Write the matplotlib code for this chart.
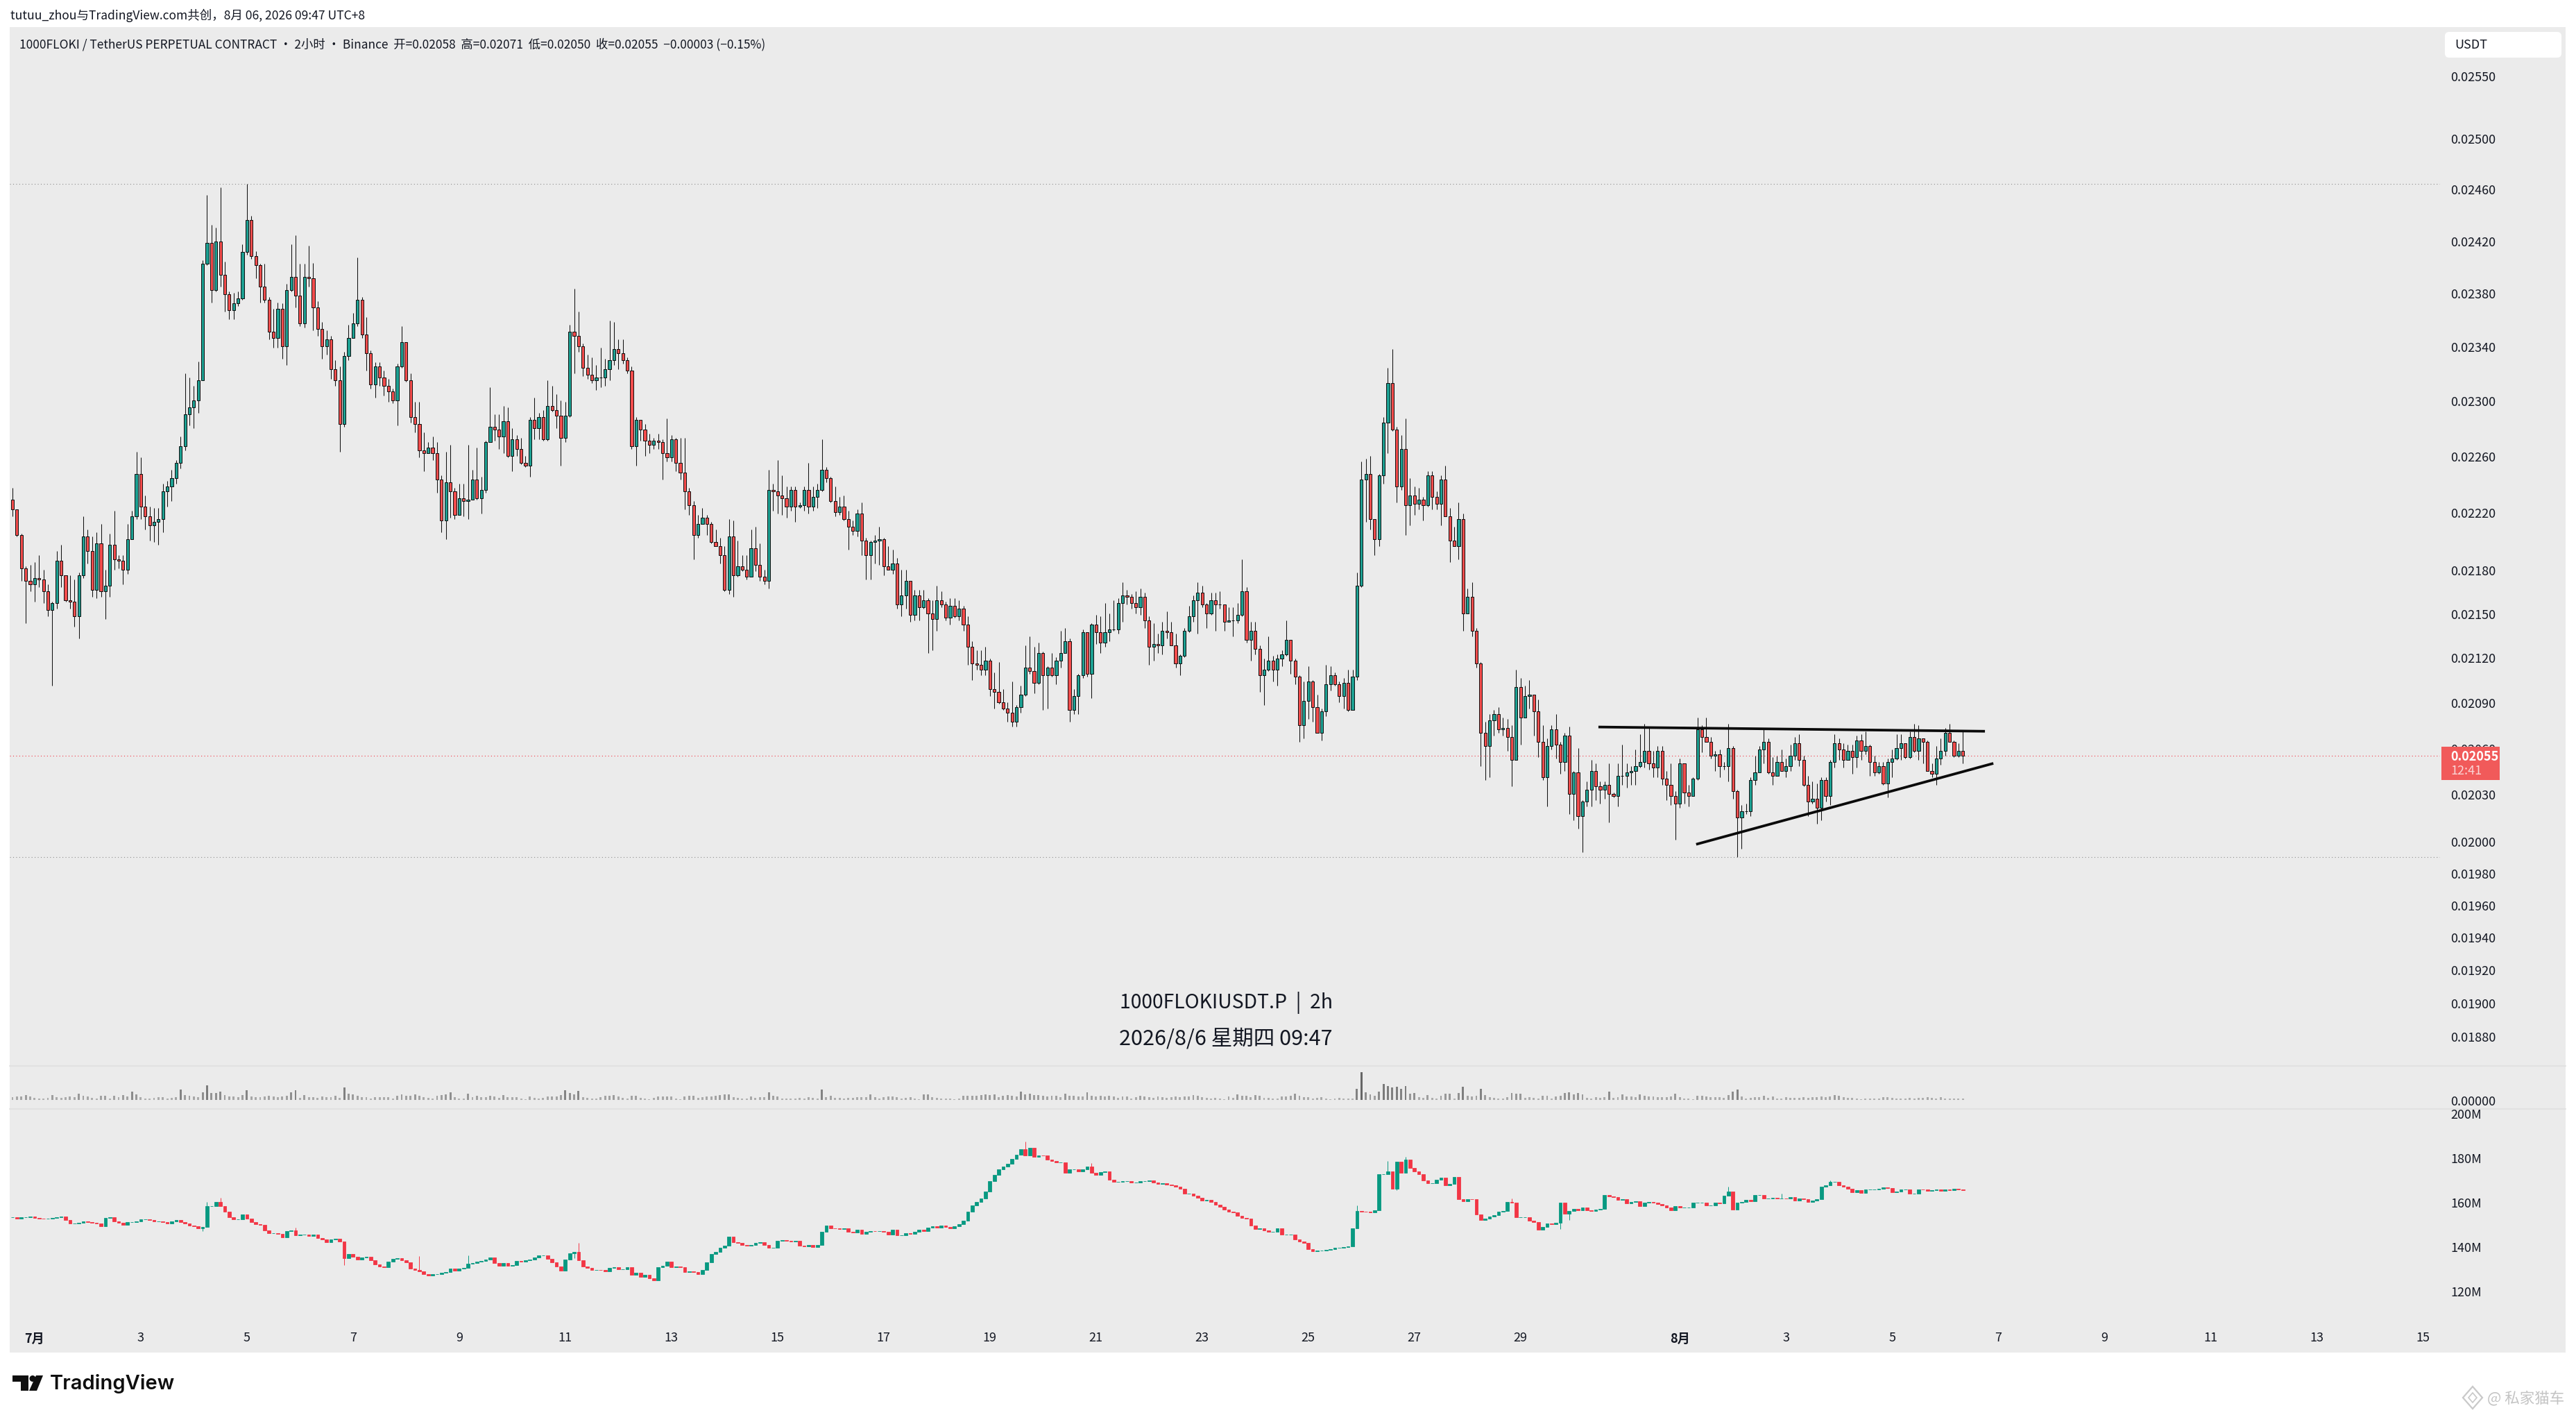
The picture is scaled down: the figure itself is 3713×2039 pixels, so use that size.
import numpy as np
import matplotlib
matplotlib.use('Agg')
import matplotlib.pyplot as plt
from matplotlib.lines import Line2D
from matplotlib.patches import Rectangle, FancyBboxPatch, Polygon
from matplotlib.ticker import NullLocator, NullFormatter
from matplotlib.transforms import Affine2D

plt.rcParams['font.family'] = ['Noto Sans CJK SC', 'DejaVu Sans']

W, H = 3713, 2040

# price candles, in units of 0.00001 USDT
close = [
2222,2204,2181,2172,2170,2174,2173,2165,2152,2157,
2186,2176,2159,2158,2148,2176,2203,2193,2166,2198,
2165,2169,2197,2187,2186,2180,2201,2217,2247,2224,
2217,2211,2213,2215,2235,2238,2244,2255,2267,2290,
2295,2300,2315,2402,2418,2382,2419,2394,2379,2367,
2372,2376,2411,2436,2408,2401,2385,2375,2351,2346,
2368,2340,2382,2392,2378,2357,2392,2391,2369,2353,
2340,2345,2323,2315,2283,2333,2346,2357,2375,2349,
2335,2312,2325,2317,2311,2307,2300,2325,2343,2315,
2288,2283,2264,2262,2266,2262,2243,2214,2241,2235,
2218,2230,2228,2229,2243,2230,2236,2270,2281,2279,
2274,2285,2260,2272,2265,2255,2253,2286,2280,2288,
2272,2296,2293,2289,2273,2289,2351,2348,2340,2324,
2319,2315,2317,2317,2323,2330,2338,2335,2330,2322,
2267,2286,2279,2271,2268,2271,2270,2262,2259,2272,
2255,2248,2235,2225,2204,2212,2216,2212,2199,2196,
2190,2166,2203,2176,2182,2180,2175,2195,2183,2175,
2172,2236,2235,2232,2230,2224,2236,2224,2225,2236,
2224,2231,2236,2250,2244,2228,2220,2224,2215,2210,
2207,2219,2200,2190,2199,2200,2201,2182,2180,2184,
2156,2162,2172,2149,2162,2154,2159,2150,2146,2159,
2156,2147,2155,2148,2153,2142,2127,2116,2115,2112,
2118,2099,2097,2090,2086,2083,2077,2087,2095,2113,
2111,2103,2123,2108,2113,2108,2118,2123,2131,2085,
2094,2108,2137,2109,2142,2137,2130,2137,2139,2139,
2157,2162,2161,2157,2154,2161,2145,2127,2129,2128,
2138,2137,2128,2116,2121,2138,2148,2159,2164,2156,
2150,2159,2156,2156,2144,2145,2145,2149,2165,2132,
2138,2126,2108,2112,2118,2112,2119,2122,2132,2118,
2107,2075,2091,2104,2087,2070,2084,2102,2108,2102,
2094,2103,2085,2107,2169,2243,2247,2215,2201,2246,
2284,2313,2279,2238,2265,2225,2232,2226,2229,2225,
2246,2231,2226,2243,2217,2200,2196,2215,2150,2161,
2138,2116,2070,2061,2078,2082,2072,2073,2067,2052,
2100,2080,2094,2095,2084,2064,2041,2061,2072,2062,
2051,2068,2030,2044,2016,2025,2033,2045,2035,2033,
2036,2030,2029,2042,2042,2044,2045,2048,2051,2058,
2050,2047,2058,2040,2036,2029,2024,2050,2031,2029,
2040,2072,2067,2064,2055,2056,2048,2048,2060,2032,
2015,2019,2019,2039,2044,2059,2064,2044,2042,2051,
2045,2048,2055,2063,2052,2036,2025,2027,2021,2039,
2029,2051,2063,2059,2052,2058,2054,2065,2058,2061,
2051,2044,2048,2037,2051,2053,2060,2063,2054,2067,
2058,2066,2064,2045,2043,2053,2058,2070,2064,2055,
2058,2055]
high = [
2237,2222,2205,2182,2183,2185,2190,2180,2170,2158,
2193,2197,2176,2176,2173,2178,2217,2208,2203,2206,
2212,2180,2205,2221,2190,2190,2212,2221,2263,2259,
2232,2224,2223,2223,2240,2242,2250,2257,2274,2320,
2317,2311,2329,2405,2455,2432,2430,2461,2404,2381,
2380,2381,2417,2464,2439,2412,2402,2402,2377,2368,
2373,2372,2387,2417,2424,2402,2402,2416,2403,2374,
2358,2352,2348,2330,2325,2336,2356,2365,2407,2377,
2362,2337,2328,2328,2322,2316,2309,2327,2355,2343,
2320,2299,2299,2277,2270,2274,2270,2246,2263,2268,
2237,2240,2240,2268,2250,2266,2245,2271,2310,2290,
2290,2296,2295,2280,2275,2273,2260,2288,2302,2291,
2293,2315,2311,2305,2300,2299,2356,2383,2366,2342,
2334,2332,2326,2339,2331,2359,2358,2345,2345,2332,
2325,2288,2286,2283,2276,2273,2276,2272,2287,2275,
2273,2273,2273,2237,2228,2218,2223,2218,2213,2208,
2202,2196,2215,2214,2200,2190,2190,2208,2210,2198,
2180,2250,2240,2257,2246,2238,2238,2238,2227,2238,
2255,2238,2240,2272,2252,2245,2238,2231,2232,2221,
2214,2222,2227,2202,2200,2204,2210,2202,2196,2194,
2188,2180,2180,2171,2166,2166,2166,2160,2159,2169,
2165,2158,2160,2160,2159,2155,2148,2131,2125,2125,
2127,2119,2110,2117,2099,2090,2104,2088,2101,2128,
2134,2127,2130,2124,2114,2123,2120,2138,2140,2133,
2099,2109,2139,2137,2143,2149,2148,2157,2150,2159,
2160,2171,2166,2163,2165,2167,2164,2148,2143,2136,
2144,2151,2144,2136,2122,2140,2155,2162,2171,2169,
2157,2164,2164,2165,2156,2154,2154,2157,2187,2168,
2144,2144,2128,2119,2134,2121,2122,2125,2145,2132,
2119,2108,2104,2114,2105,2095,2086,2115,2114,2110,
2104,2106,2112,2112,2178,2256,2258,2260,2212,2247,
2288,2324,2338,2281,2275,2287,2244,2238,2237,2231,
2249,2249,2235,2246,2253,2223,2210,2227,2219,2167,
2171,2140,2117,2077,2082,2085,2087,2080,2079,2075,
2112,2106,2101,2105,2095,2092,2075,2066,2075,2082,
2064,2070,2074,2045,2060,2026,2038,2052,2050,2038,
2038,2050,2031,2050,2062,2050,2048,2059,2069,2076,
2073,2058,2061,2061,2045,2050,2032,2053,2050,2036,
2041,2080,2075,2080,2067,2058,2059,2051,2076,2061,
2033,2023,2024,2041,2055,2061,2072,2066,2054,2055,
2059,2053,2062,2067,2069,2055,2042,2038,2037,2041,
2041,2052,2069,2066,2063,2062,2062,2068,2069,2071,
2062,2055,2051,2051,2053,2059,2069,2069,2063,2071,
2076,2075,2066,2065,2050,2061,2066,2073,2076,2065,
2063,2071]
low = [
2217,2203,2172,2143,2165,2158,2168,2157,2148,2101,
2153,2168,2158,2153,2141,2133,2174,2184,2161,2160,
2161,2146,2161,2180,2181,2170,2177,2201,2215,2215,
2208,2200,2199,2197,2206,2224,2228,2240,2251,2264,
2282,2280,2291,2315,2401,2373,2381,2385,2366,2360,
2360,2370,2375,2409,2406,2391,2373,2373,2345,2339,
2339,2331,2326,2381,2369,2355,2354,2385,2352,2348,
2331,2334,2316,2311,2263,2281,2330,2356,2355,2346,
2322,2309,2302,2311,2304,2299,2298,2282,2324,2314,
2284,2277,2259,2249,2263,2257,2234,2206,2201,2216,
2215,2219,2217,2215,2229,2229,2219,2234,2270,2271,
2265,2262,2259,2249,2260,2254,2252,2245,2272,2272,
2271,2271,2292,2280,2253,2270,2288,2320,2336,2318,
2316,2313,2308,2310,2311,2315,2326,2323,2327,2320,
2265,2253,2271,2260,2262,2265,2265,2243,2256,2256,
2249,2243,2222,2218,2187,2202,2212,2204,2198,2196,
2184,2165,2163,2161,2175,2179,2173,2183,2179,2172,
2170,2167,2221,2219,2218,2216,2221,2213,2223,2221,
2219,2221,2223,2235,2241,2227,2217,2218,2214,2194,
2204,2203,2190,2173,2173,2184,2183,2176,2180,2177,
2153,2148,2153,2144,2145,2145,2153,2123,2125,2138,
2154,2145,2142,2147,2145,2138,2115,2105,2112,2108,
2108,2094,2086,2089,2085,2077,2074,2074,2083,2094,
2109,2096,2102,2085,2086,2107,2102,2113,2123,2077,
2082,2082,2106,2107,2093,2129,2123,2127,2131,2138,
2136,2144,2156,2153,2150,2149,2140,2115,2118,2123,
2122,2133,2128,2113,2108,2120,2137,2144,2136,2154,
2140,2149,2138,2153,2138,2144,2134,2143,2148,2130,
2118,2122,2097,2088,2111,2104,2101,2114,2121,2109,
2102,2064,2066,2079,2077,2070,2065,2081,2098,2101,
2090,2086,2084,2085,2105,2168,2213,2208,2190,2196,
2240,2262,2278,2227,2236,2204,2211,2218,2222,2214,
2224,2222,2222,2211,2217,2185,2196,2187,2138,2155,
2134,2113,2048,2039,2041,2068,2070,2068,2058,2035,
2052,2062,2080,2086,2068,2054,2039,2022,2059,2053,
2043,2045,2017,2013,2008,1993,2022,2022,2026,2024,
2027,2012,2028,2022,2036,2034,2036,2036,2047,2047,
2046,2041,2041,2036,2026,2023,2001,2021,2024,2022,
2029,2039,2057,2064,2053,2045,2041,2046,2038,2027,
1990,1995,2017,2016,2036,2044,2050,2043,2036,2042,
2045,2041,2045,2052,2048,2035,2016,2024,2011,2013,
2025,2023,2047,2052,2047,2052,2043,2047,2052,2056,
2042,2042,2043,2036,2028,2041,2052,2052,2053,2053,
2057,2052,2050,2045,2041,2036,2049,2055,2064,2054,
2054,2050]

# volume pane, heights (axis shows no scale)
volume = [
10,13,15,20,14,9,7,5,8,20,11,8,11,14,12,25,17,13,8,7,17,18,7,17,10,20,15,35,24,10,
7,6,9,11,12,7,8,12,43,20,16,13,10,32,60,28,30,35,20,15,13,12,20,40,14,12,10,14,17,13,
11,15,18,32,40,9,20,10,12,9,14,10,11,18,9,52,25,22,17,12,10,6,12,11,10,12,7,18,22,17,
18,24,16,12,8,7,17,20,24,32,12,7,5,26,10,18,10,10,18,14,9,20,12,11,12,6,4,14,8,6,
9,13,15,15,20,41,30,23,38,11,9,5,6,12,16,18,21,13,9,5,17,18,9,6,4,9,14,14,15,13,
6,4,15,16,17,9,10,13,14,16,21,22,24,11,8,6,5,13,8,10,10,31,17,15,7,7,5,7,8,5,
12,8,6,43,12,16,8,9,6,8,9,11,10,10,22,12,7,10,14,14,12,
6,9,12,5,4,24,24,11,9,7,5,5,4,5,17,16,16,16,20,24,21,24,12,18,20,17,15,34,24,25,
20,20,17,15,16,16,10,25,17,16,15,13,32,18,14,17,14,16,14,8,14,13,7,11,18,15,12,8,14,12,
9,10,13,12,14,14,20,16,11,8,6,9,5,4,14,8,23,16,16,12,21,16,8,9,5,5,14,14,16,25,
16,12,11,5,8,12,6,4,6,9,5,6,5,47,115,32,24,18,35,67,57,52,55,45,58,25,30,10,8,20,9,6,
18,25,25,5,30,55,16,14,16,46,20,11,9,5,7,12,28,25,25,9,10,8,7,17,17,7,15,18,28,32,
22,28,22,8,6,10,8,10,34,9,12,22,15,13,12,24,17,14,13,11,11,12,14,25,12,6,6,4,17,16,
15,10,11,11,8,20,35,43,13,7,8,10,11,17,8,13,5,6,11,9,8,9,
12,8,10,12,13,11,13,20,18,10,8,9,5,4,5,6,6,7,12,10,8,7,7,7,8,7,8,8,12,9,7,10,7,5,7,6,7]

# lower pane candles, closes in millions
m_close = [
153.3,152.6,153.3,153.3,153.6,152.9,152.6,152.4,152.6,152.9,153.3,153.6,152.0,150.2,150.3,150.5,151.3,151.0,150.8,150.2,
149.1,152.8,153.3,151.3,150.5,149.7,151.0,151.0,151.3,152.2,152.2,152.0,151.2,151.3,151.0,150.4,151.2,152.0,151.0,150.2,
149.4,149.0,148.3,148.8,158.0,158.3,159.9,158.0,155.5,153.1,152.3,152.3,154.5,152.6,151.0,150.1,149.6,147.2,146.1,146.1,
145.8,144.0,146.9,147.2,145.1,145.4,145.4,144.8,145.3,143.7,143.2,141.9,143.2,143.4,142.2,134.6,136.5,135.4,134.1,134.9,
135.2,133.8,131.9,131.1,130.6,133.0,134.3,134.6,133.8,132.7,130.0,129.3,128.9,127.5,126.9,127.5,127.6,128.2,128.6,130.0,
129.0,130.0,130.3,132.2,132.4,133.0,133.6,134.0,134.9,132.4,131.3,132.5,131.4,131.6,133.5,133.3,133.8,134.0,135.1,135.9,
135.9,134.3,132.7,131.1,129.0,134.0,137.0,137.5,133.8,131.1,130.3,129.3,129.5,129.3,128.9,130.3,130.8,129.7,129.8,130.8,
127.3,128.2,126.3,127.1,125.7,124.6,130.6,131.4,133.1,130.8,131.1,130.8,128.4,128.9,128.6,127.5,129.5,132.9,136.7,137.5,
139.4,140.2,144.3,141.8,141.5,140.8,140.2,140.8,141.5,141.8,140.8,139.4,139.4,142.6,142.8,142.6,142.2,142.4,140.2,140.0,
140.8,139.7,140.8,146.7,149.4,148.3,148.0,147.8,148.0,146.5,146.2,147.4,145.8,146.7,147.0,146.9,147.0,146.5,145.4,147.4,145.1,
145.1,146.1,145.6,146.7,147.5,147.0,148.6,149.0,148.6,149.3,148.8,148.3,149.0,149.9,151.5,155.5,158.5,159.9,161.5,164.6,
169.3,172.3,174.8,175.9,177.3,179.5,181.4,183.7,181.1,184.3,180.5,181.1,180.9,179.2,178.6,177.9,177.9,173.3,174.6,174.8,
173.9,174.6,175.9,173.2,172.3,173.6,173.8,170.0,169.0,169.0,169.3,169.3,168.7,168.9,169.3,169.3,169.8,168.7,168.0,168.5,
167.9,167.5,166.9,166.0,163.7,163.9,162.8,162.0,160.7,160.9,159.9,158.8,157.7,156.7,155.6,155.3,153.7,152.8,152.6,149.4,
147.8,148.0,147.2,146.7,146.7,148.3,145.4,145.4,145.4,143.1,142.2,141.5,138.8,137.9,138.1,138.3,138.4,138.8,139.3,139.4,
139.7,139.9,148.1,156.1,155.6,155.5,155.3,156.4,172.5,172.5,173.8,166.0,178.1,173.0,179.2,175.2,173.8,172.5,169.7,168.4,
168.5,170.1,170.9,167.6,168.0,171.4,161.2,160.4,161.4,161.2,154.4,152.0,152.6,153.4,154.2,155.8,156.0,160.1,159.6,153.3,
153.3,153.3,151.5,151.0,147.5,148.8,150.2,149.9,150.8,159.6,154.7,156.1,156.9,156.4,157.4,156.4,156.1,156.6,157.0,163.3,
162.5,162.3,160.9,161.2,159.4,160.1,160.4,158.3,159.6,160.1,159.6,159.0,158.5,157.6,156.4,158.3,157.4,157.6,157.6,159.6,
159.8,159.8,158.5,158.5,159.8,159.3,162.8,164.6,156.6,159.6,160.1,160.9,160.3,163.3,163.3,161.7,161.7,162.0,161.7,161.7,
161.5,162.3,160.7,161.7,161.2,160.1,160.7,161.2,166.8,167.6,169.0,169.0,167.6,166.9,166.0,164.4,165.2,164.2,165.5,165.5,
165.8,166.1,166.6,166.2,164.4,164.6,165.5,165.5,163.9,163.9,165.8,165.5,165.0,165.2,165.5,165.0,165.7,165.3,165.9,165.8,165.4]
# only the wicks that stick out
m_high_idx = [44, 47, 64, 92, 103, 128, 229, 244, 304, 311, 315, 339, 388, 400, 411]
m_high_val = [160.1, 162.0, 148.6, 135.8, 136.1, 141.5, 187.1, 177.6, 158.5, 178.4, 180.5, 161.7, 166.8, 163.9, 169.6]
m_low_idx = [43, 75, 127, 313, 350, 352]
m_low_val = [146.9, 131.6, 134.6, 165.3, 147.8, 152.0]

price_ticks = [2550, 2500, 2460, 2420, 2380, 2340, 2300, 2260, 2220, 2180, 2150, 2120, 2090, 2060,
               2030, 2000, 1980, 1960, 1940, 1920, 1900, 1880]
m_ticks = [200, 180, 160, 140, 120]
date_idx = [5, 29, 53, 77, 101, 125, 149, 173, 197, 221, 245, 269, 293, 317, 341, 377, 401, 425, 449, 473, 497, 521, 545]
date_labels = ['7月', '3', '5', '7', '9', '11', '13', '15', '17', '19', '21', '23', '25', '27', '29',
               '8月', '3', '5', '7', '9', '11', '13', '15']

last_price = 2055
top_line = 2464
bottom_line = 1990
trend_upper_x, trend_upper_y = [358.6, 446.0], [2073.7, 2070.9]
trend_lower_x, trend_lower_y = [380.7, 447.9], [1997.9, 2049.9]

assert len(close) == len(high) == len(low), (len(close), len(high), len(low))

TEXT = '#131722'
UP, DOWN = '#1c9f91', '#f24c4c'
UP2, DOWN2 = '#089981', '#f23645'
BG = '#ebebeb'
TICK_SIZE = 13


def pane(top, bottom, left=14, right=3517):
    return fig.add_axes([left / W, 1 - bottom / H, (right - left) / W, (bottom - top) / H], facecolor='none')


def style(ax, xlim):
    ax.set_xlim(*xlim)
    for s in ax.spines.values():
        s.set_visible(False)
    ax.set_xticks([])
    ax.yaxis.tick_right()
    ax.tick_params(axis='y', length=0, pad=10.8, labelsize=TICK_SIZE, labelcolor=TEXT)


fig = plt.figure(figsize=(W / 100, H / 100), dpi=100, facecolor='white')
px = Affine2D().scale(1 / W, -1 / H).translate(0, 1) + fig.transFigure

fig.add_artist(Rectangle((14, 40), 3684, 1910, transform=px, facecolor=BG, edgecolor='none', zorder=-5))
for y in (1537, 1599):
    fig.add_artist(Line2D([14, 3698], [y, y], transform=px, color='#dfdfdf', lw=1.2))

xlim = (-0.63, 548.9)
idx = np.arange(len(close))
c = np.array(close) * 1e-5
o = np.r_[2229e-5, c[:-1]]
hi = np.maximum(np.array(high) * 1e-5, np.maximum(o, c))
lo = np.minimum(np.array(low) * 1e-5, np.minimum(o, c))

# main pane
ax = pane(40, 1536)
ax.set_yscale('log')
style(ax, xlim)
ax.set_ylim(0.018626, 0.025896)
ax.yaxis.set_minor_locator(NullLocator())
ax.yaxis.set_minor_formatter(NullFormatter())
ax.set_yticks([t * 1e-5 for t in price_ticks])
ax.set_yticklabels([f'{t * 1e-5:.5f}' for t in price_ticks])
ax.yaxis.set_minor_locator(NullLocator())
ax.vlines(idx, lo, hi, color='#111111', lw=0.75, zorder=2)
colors = [UP if a >= b else DOWN for a, b in zip(c, o)]
ax.bar(idx, np.abs(c - o), bottom=np.minimum(c, o), width=0.66, color=colors, edgecolor='#111111', linewidth=0.72, zorder=3)
ax.hlines(top_line * 1e-5, xlim[0], xlim[1], color='#8c8c8c', lw=0.8, linestyles=(0, (1, 3)))
ax.hlines(bottom_line * 1e-5, xlim[0], xlim[1], color='#8c8c8c', lw=0.8, linestyles=(0, (1, 3)))
ax.hlines(last_price * 1e-5, xlim[0], xlim[1], color='#f23645', lw=0.8, linestyles=(0, (1, 3)))
for xs, ys in ((trend_upper_x, trend_upper_y), (trend_lower_x, trend_lower_y)):
    ax.plot(xs, [v * 1e-5 for v in ys], color='#0a0a0a', lw=2.7, solid_capstyle='butt', zorder=5)

# volume pane
vax = pane(1537, 1599)
style(vax, xlim)
vax.set_ylim(-38, 142)
v = np.array(volume, dtype=float)
shade = np.interp(v, [4, 40, 115], [0.70, 0.52, 0.40])
vax.bar(np.arange(len(v)), v, width=0.46, color=[str(s) for s in shade], linewidth=0)
vax.set_yticks([0])
vax.set_yticklabels(['0.00000'])

# lower pane
max_ = pane(1600, 1950)
style(max_, xlim)
max_.set_ylim(92.2, 201.6)
mc = np.array(m_close)
mo = np.r_[153.3, mc[:-1]]
mi = np.arange(len(mc))
mcolors = [UP2 if a >= b else DOWN2 for a, b in zip(mc, mo)]
max_.bar(mi, np.abs(mc - mo), bottom=np.minimum(mc, mo), width=0.74, color=mcolors, edgecolor=mcolors, linewidth=0.6, zorder=3)
for i, val in zip(m_high_idx, m_high_val):
    max_.vlines(i, mc[i], val, color=mcolors[i], lw=0.7, zorder=2)
for i, val in zip(m_low_idx, m_low_val):
    max_.vlines(i, val, mc[i], color=mcolors[i], lw=0.7, zorder=2)
max_.set_yticks(m_ticks)
max_.set_yticklabels([f'{t}M' for t in m_ticks])
max_.set_xticks(date_idx)
max_.set_xticklabels(date_labels)
max_.tick_params(axis='x', length=0, direction='in', pad=-22, labelsize=TICK_SIZE, labelcolor=TEXT)
for lab, name in zip(max_.get_xticklabels(), date_labels):
    if name.endswith('月'):
        lab.set_fontweight('bold')

# header, legend
fig.text(15 / W, 1 - 22 / H, 'tutuu_zhou与TradingView.com共创，8月 06, 2026 09:47 UTC+8', fontsize=12.6, color=TEXT, va='center')
fig.text(28 / W, 1 - 64 / H, '1000FLOKI / TetherUS PERPETUAL CONTRACT · 2小时 · Binance  开=0.02058  高=0.02071  低=0.02050  收=0.02055  −0.00003 (−0.15%)',
         fontsize=12.5, color=TEXT, va='center')
fig.text(1767 / W, 1 - 1445 / H, '1000FLOKIUSDT.P  |  2h', fontsize=20.4, color=TEXT, ha='center', va='center')
fig.text(1767 / W, 1 - 1497 / H, '2026/8/6 星期四 09:47', fontsize=22, color=TEXT, ha='center', va='center')

# currency box and last price tag
fig.add_artist(FancyBboxPatch((3528, 51), 160, 29, boxstyle='round,pad=4,rounding_size=6', transform=px, facecolor='white', edgecolor='none', zorder=6))
fig.text(3538 / W, 1 - 65 / H, 'USDT', fontsize=TICK_SIZE, color=TEXT, va='center', zorder=7)
fig.add_artist(Rectangle((3519, 1077), 84, 48, transform=px, facecolor='#f15a5a', edgecolor='none', zorder=6))
fig.text(3532 / W, 1 - 1091 / H, '0.02055', fontsize=TICK_SIZE, color='white', fontweight='bold', va='center', zorder=7)
fig.text(3532 / W, 1 - 1111 / H, '12:41', fontsize=TICK_SIZE, color='#f9d5d5', va='center', zorder=7)

# logo
fig.add_artist(Polygon([(18, 1983), (41, 1983), (41, 2005), (30, 2005), (30, 1992), (18, 1992)], closed=True, transform=px, facecolor='#0f0f0f', edgecolor='none'))
fig.add_artist(plt.Circle((47, 1987.5), 4.5, transform=px, facecolor='#0f0f0f', edgecolor='none'))
fig.add_artist(Polygon([(52, 1983), (62, 1983), (53, 2005), (42, 2005)], closed=True, transform=px, facecolor='#0f0f0f', edgecolor='none'))
fig.text(72 / W, 1 - 1994 / H, 'TradingView', fontsize=21, family='Inter', fontweight='semibold', color='#0f0f0f', va='center')

# watermark
fig.add_artist(Polygon([(3564, 1999), (3578, 2015), (3564, 2031), (3550, 2015)], closed=True, transform=px, facecolor='none', edgecolor='#c9c9c9', lw=1.6))
fig.add_artist(Polygon([(3564, 2008), (3570, 2015), (3564, 2022), (3558, 2015)], closed=True, transform=px, facecolor='none', edgecolor='#c9c9c9', lw=1.2))
fig.text(3585 / W, 1 - 2015 / H, '@ 私家猫车', fontsize=15.5, color='#c4c4c4', va='center')

fig.savefig('out.png', dpi=100, facecolor='white')
